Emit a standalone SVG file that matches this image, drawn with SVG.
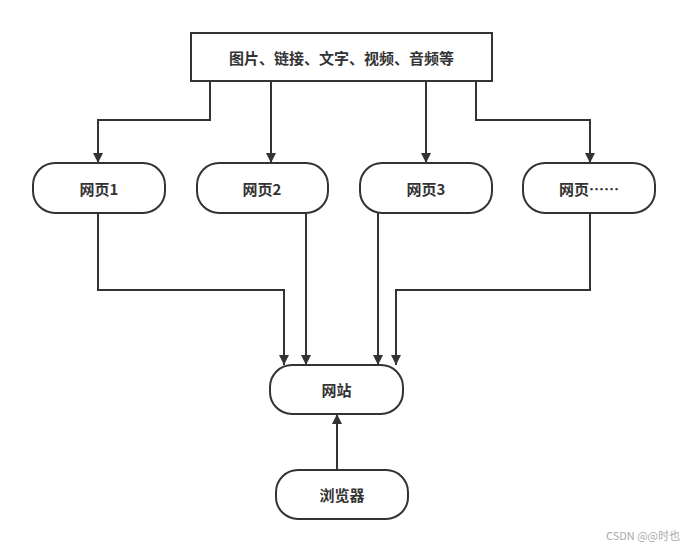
<svg xmlns="http://www.w3.org/2000/svg" width="689" height="552" viewBox="0 0 689 552">
<style>
.n{fill:#fff;stroke:#333;stroke-width:2}
.t{font-family:"Noto Sans CJK SC","Liberation Sans",sans-serif;font-weight:bold;font-size:15px;fill:#333;text-anchor:middle;dominant-baseline:central}
.c{fill:none;stroke:#333;stroke-width:2;marker-end:url(#a)}
</style>
<defs><marker id="a" markerWidth="12" markerHeight="12" refX="10" refY="5" orient="auto" markerUnits="userSpaceOnUse"><path d="M0,0 L10,5 L0,10 z" fill="#333"/></marker></defs>
<rect width="689" height="552" fill="#fff"/>
<g id="connectors">
<path class="c" d="M210,81 V120 H98 V163"/>
<path class="c" d="M271,81 V163"/>
<path class="c" d="M426,81 V163"/>
<path class="c" d="M476,81 V120 H590 V163"/>
<path class="c" d="M98,213 V290 H284 V365"/>
<path class="c" d="M306,213 V365"/>
<path class="c" d="M378,213 V365"/>
<path class="c" d="M590,213 V290 H396 V365"/>
<path class="c" d="M337,470 V414"/>
</g>
<g id="top"><rect class="n" x="191" y="33" width="301" height="48"/><text class="t" x="341.5" y="57">图片、链接、文字、视频、音频等</text></g>
<g id="p1"><rect class="n" x="33" y="163" width="132" height="50" rx="22"/><text class="t" x="99" y="188">网页1</text></g>
<g id="p2"><rect class="n" x="197" y="163" width="131" height="50" rx="22"/><text class="t" x="262" y="188">网页2</text></g>
<g id="p3"><rect class="n" x="360" y="163" width="132" height="50" rx="22"/><text class="t" x="426" y="188">网页3</text></g>
<g id="p4"><rect class="n" x="523" y="163" width="132" height="50" rx="22"/><text class="t" x="589" y="188">网页……</text></g>
<g id="site"><rect class="n" x="270" y="365" width="133" height="49" rx="22"/><text class="t" x="336.5" y="389.5">网站</text></g>
<g id="browser"><rect class="n" x="276" y="470" width="132" height="49" rx="22"/><text class="t" x="342" y="494.5">浏览器</text></g>
<text x="680" y="540" font-family="Noto Sans CJK SC,Liberation Sans,sans-serif" font-size="11" fill="#aaa" text-anchor="end">CSDN @@时也</text>
</svg>
